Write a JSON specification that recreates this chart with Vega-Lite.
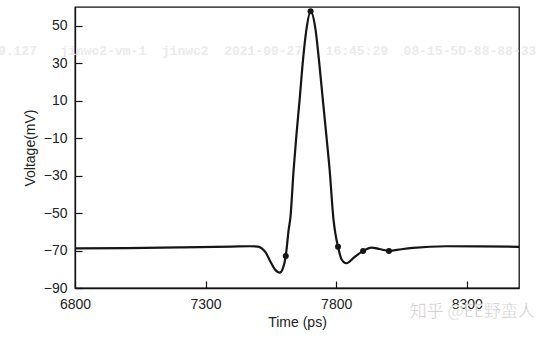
{
  "$schema": "https://vega.github.io/schema/vega-lite/v6.json",
  "width": 444,
  "height": 281,
  "autosize": {"type": "none"},
  "padding": {"left": 75, "top": 7, "right": 28, "bottom": 50},
  "background": "white",
  "config": {
    "view": {"stroke": "#111", "strokeWidth": 1.3},
    "axis": {
      "grid": false,
      "domainColor": "#111",
      "domainWidth": 1.3,
      "tickColor": "#111",
      "tickWidth": 1.2,
      "tickSize": -7,
      "labelFlush": false,
      "labelFont": "Liberation Sans",
      "labelFontSize": 14,
      "labelColor": "#222",
      "titleFont": "Liberation Sans",
      "titleFontSize": 14,
      "titleFontWeight": "normal",
      "titleColor": "#222"
    }
  },
  "datasets": {
    "curve": [
      {"t": 6800, "v": -68.9}, {"t": 7000, "v": -68.7}, {"t": 7200, "v": -68.3},
      {"t": 7400, "v": -67.9}, {"t": 7469, "v": -67.7}, {"t": 7500, "v": -67.9},
      {"t": 7515, "v": -68.8}, {"t": 7530, "v": -71}, {"t": 7545, "v": -75},
      {"t": 7565, "v": -80}, {"t": 7584, "v": -81.8}, {"t": 7596, "v": -79.5},
      {"t": 7607, "v": -72.9}, {"t": 7618, "v": -59}, {"t": 7625, "v": -52},
      {"t": 7637, "v": -27}, {"t": 7648, "v": -8}, {"t": 7660, "v": 10.4},
      {"t": 7673, "v": 31.8}, {"t": 7686, "v": 47.9}, {"t": 7702, "v": 57.7},
      {"t": 7721, "v": 47.9}, {"t": 7734, "v": 31.8}, {"t": 7749, "v": 10.4},
      {"t": 7762, "v": -8}, {"t": 7775, "v": -27}, {"t": 7790, "v": -53.8},
      {"t": 7797, "v": -61}, {"t": 7807, "v": -68}, {"t": 7820, "v": -74.5},
      {"t": 7839, "v": -76.8}, {"t": 7871, "v": -73.4}, {"t": 7903, "v": -70.2},
      {"t": 7935, "v": -68.4}, {"t": 7965, "v": -69.2}, {"t": 8002, "v": -70.2},
      {"t": 8050, "v": -69.3}, {"t": 8094, "v": -68.6}, {"t": 8222, "v": -67.7},
      {"t": 8350, "v": -67.8}, {"t": 8500, "v": -68}
    ],
    "markers": [
      {"t": 7607, "v": -72.9}, {"t": 7702, "v": 57.7}, {"t": 7807, "v": -68},
      {"t": 7903, "v": -70.2}, {"t": 8002, "v": -70.2}
    ],
    "stamp": [
      {"t": 6505, "v": 36.6, "label": "9.127\u00a0\u00a0\u00a0jinwc2-vm-1\u00a0\u00a0jinwc2\u00a0\u00a02021-09-27\u00a0\u00a0\u00a016:45:29\u00a0\u00a008-15-5D-88-88-33"}
    ],
    "credit": [
      {"t": 8321, "v": -103, "label": "知乎 @EE野蛮人"}
    ]
  },
  "encoding": {
    "x": {
      "field": "t", "type": "quantitative",
      "scale": {"domain": [6800, 8500], "nice": false, "zero": false},
      "axis": {"values": [6800, 7300, 7800, 8300], "title": "Time (ps)", "labelPadding": 16, "titlePadding": 4, "format": "d"}
    },
    "y": {
      "field": "v", "type": "quantitative",
      "scale": {"domain": [-90, 60], "nice": false, "zero": false},
      "axis": {"values": [50, 30, 10, -10, -30, -50, -70, -90], "title": "Voltage(mV)", "labelPadding": 15, "titlePadding": 6}
    }
  },
  "layer": [
    {
      "data": {"name": "stamp"},
      "mark": {"type": "text", "align": "left", "baseline": "middle", "font": "Liberation Mono", "fontSize": 13, "fontWeight": "bold", "color": "#ebebeb", "clip": false},
      "encoding": {"text": {"field": "label"}}
    },
    {
      "data": {"name": "curve"},
      "mark": {"type": "line", "interpolate": "monotone", "color": "#151515", "strokeWidth": 2.2}
    },
    {
      "data": {"name": "markers"},
      "mark": {"type": "point", "filled": true, "color": "#151515", "size": 36, "opacity": 1}
    },
    {
      "data": {"name": "credit"},
      "mark": {"type": "text", "align": "center", "baseline": "middle", "font": "Noto Sans CJK SC", "fontSize": 17, "color": "#c4c4c4", "stroke": "white", "strokeWidth": 0.5, "clip": false},
      "encoding": {"text": {"field": "label"}}
    }
  ]
}
